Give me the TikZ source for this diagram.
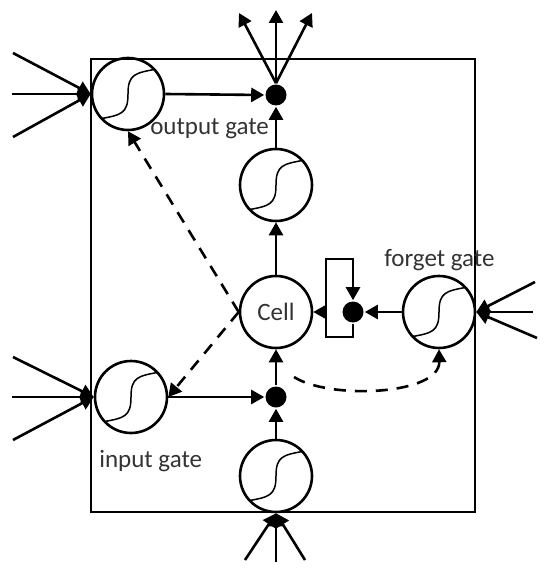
\documentclass[tikz,border=0pt]{standalone}
\usepackage{fontspec}
\setmainfont{Carlito}
\usetikzlibrary{arrows.meta}

\begin{document}
\begin{tikzpicture}[x=1pt, y=-1pt, line width=2.6pt,
            every node/.style={
            inner sep=0pt, font=\fontsize{25}{30}\selectfont, text=black!80}
        ]
        \tikzstyle {sig_circ} = [circle, draw=black, line width=2.6pt, minimum size=72pt,
            path picture={\draw[line width=1.5pt] ([shift={(-29,25)}]path picture bounding box.center)
                .. controls +(22,-4) and +(0,20) .. (path picture bounding box.center)
                .. controls +(0,-20) and +(-22,4) .. ([shift={(29,-25)}]path picture bounding box.center);}]
        \tikzstyle {cell_circ} = [circle, draw=black, line width=2.6pt, minimum size=72pt]
        \tikzstyle {dot_circ} = [circle, fill=black, minimum size=21pt]
        \tikzstyle {arr} = [-{Triangle[length=13pt, width=14pt]}]
        \tikzstyle {dash_arr} = [arr, dash pattern=on 12pt off 9pt]

        \useasboundingbox (0,0) rectangle (550,575);
        \draw [line width=2.8pt] (91,59) rectangle (475,512);

        \node [sig_circ] (og) at (128,94) {};
        \node [dot_circ] (odot) at (276,95) {};
        \node [sig_circ] (usq) at (276,185) {};
        \node [cell_circ] (cell) at (276,312) {Cell};
        \node [dot_circ] (fdot) at (353,312) {};
        \node [sig_circ] (fg) at (439,312) {};
        \node [dot_circ] (idot) at (276,397) {};
        \node [sig_circ] (ig) at (131,397) {};
        \node [sig_circ] (bsq) at (276,476) {};

        \node [anchor=base west] (og_lbl) at (149,135) {output gate};
        \node [anchor=base west] (fg_lbl) at (383,266) {forget gate};
        \node [anchor=base west] (ig_lbl) at (98,467) {input gate};

        \coordinate (out_1) at (239,13);
        \coordinate (out_2) at (276,10);
        \coordinate (out_3) at (312,13);
        \coordinate (in_o1) at (13,53);
        \coordinate (in_o2) at (12,94);
        \coordinate (in_o3) at (13,137);
        \coordinate (in_i1) at (13,357);
        \coordinate (in_i2) at (12,397);
        \coordinate (in_i3) at (13,440);
        \coordinate (in_b1) at (245,560);
        \coordinate (in_b2) at (276,562);
        \coordinate (in_b3) at (305,560);
        \coordinate (in_f1) at (535,282);
        \coordinate (in_f2) at (533,312);
        \coordinate (in_f3) at (537,338);
        \coordinate (lt) at (326,259);
        \coordinate (lb) at (326,337);
        \coordinate (pf) at (294,377);

        % inputs
        \draw (in_o1) edge[arr] (og.west);
        \draw (in_o2) edge[arr] (og.west);
        \draw (in_o3) edge[arr] (og.west);
        \draw (in_i1) edge[arr] (ig.west);
        \draw (in_i2) edge[arr] (ig.west);
        \draw (in_i3) edge[arr] (ig.west);
        \draw (in_b1) edge[arr] (bsq.south);
        \draw (in_b2) edge[arr] (bsq.south);
        \draw (in_b3) edge[arr] (bsq.south);
        \draw (in_f1) edge[arr] (fg.east);
        \draw (in_f2) edge[arr] (fg.east);
        \draw (in_f3) edge[arr] (fg.east);

        % outputs
        \draw (odot.north) edge[arr] (out_1);
        \draw (odot.north) edge[arr] (out_2);
        \draw (odot.north) edge[arr] (out_3);

        \draw (og.east) edge[arr] (odot.west);
        \draw (usq.north) edge[arr] (odot.south);
        \draw (cell.north) edge[arr] (usq.south);
        \draw (idot.north) edge[arr] (cell.south);
        \draw (ig.east) edge[arr] (idot.west);
        \draw (bsq.north) edge[arr] (idot.south);
        \draw (fg.west) edge[arr] (fdot.east);
        \draw [arr] (fdot.south) |- (lb) -- (lt) -| (fdot.north);
        \draw [arr] (lt |- cell) -- (cell.east);

        % peepholes
        \draw [dash_arr] (cell.west) -- (og.south);
        \draw [dash_arr] (cell.west) -- (ig.east);
        \draw [dash_arr] (pf) .. controls (330,400) and (440,395) .. (fg.south);

        \end{tikzpicture}
\end{document}
